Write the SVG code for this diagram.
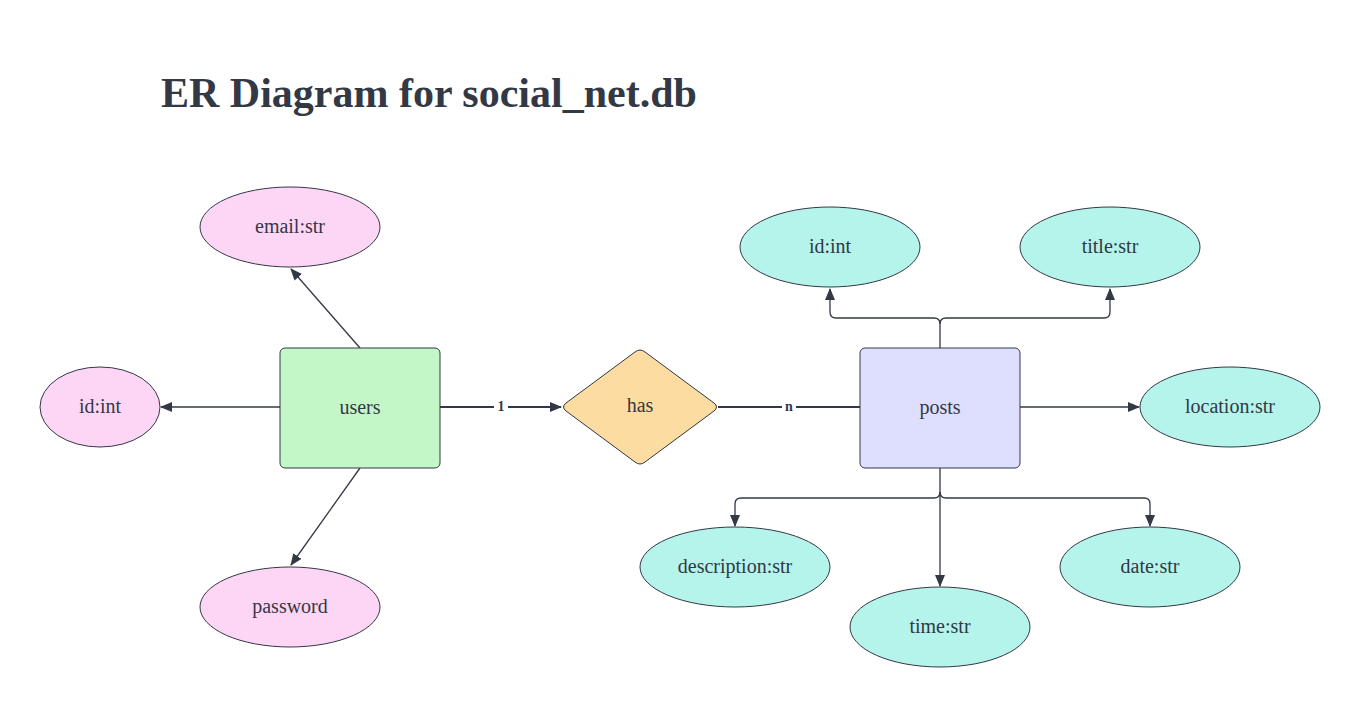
<svg xmlns="http://www.w3.org/2000/svg" width="1360" height="708" viewBox="0 0 1360 708">
<style>
text{font-family:"Liberation Serif","DejaVu Serif",serif;fill:#333845;text-anchor:middle;dominant-baseline:central;font-size:20px}
.pk{fill:#fdd6f6;stroke:#333845;stroke-width:1}
.tl{fill:#b4f4ea;stroke:#333845;stroke-width:1}
.c{fill:none;stroke:#333845;stroke-width:1.3}
.lb{font-size:14px;font-weight:bold}
</style>
<defs><marker id="a" markerWidth="12" markerHeight="10" refX="11" refY="5" orient="auto" markerUnits="userSpaceOnUse"><path d="M0,0 L12,5 L0,10 z" fill="#333845"/></marker></defs>
<rect width="1360" height="708" fill="#fff"/>
<text x="161" y="93" style="text-anchor:start;font-size:42px;font-weight:bold">ER Diagram  for social_net.db</text>
<g id="connectors">
<path class="c" d="M360,348 L291,269" marker-end="url(#a)"/>
<path class="c" d="M280,407 L161,407" marker-end="url(#a)"/>
<path class="c" d="M360,468 L291,565" marker-end="url(#a)"/>
<path class="c" d="M440,407 L561,407" marker-end="url(#a)" style="stroke-width:2"/>
<rect x="494" y="399" width="14" height="16" fill="#fff"/><text class="lb" x="501" y="406">1</text>
<path class="c" d="M718,407 L860,407" style="stroke-width:2"/>
<rect x="782" y="399" width="14" height="16" fill="#fff"/><text class="lb" x="789" y="406">n</text>
<path class="c" d="M940,348 L940,324 Q940,318 934,318 L836,318 Q830,318 830,312 L830,289" marker-end="url(#a)"/>
<path class="c" d="M940,324 Q940,318 946,318 L1104,318 Q1110,318 1110,312 L1110,289" marker-end="url(#a)"/>
<path class="c" d="M1020,407 L1139,407" marker-end="url(#a)"/>
<path class="c" d="M940,468 L940,492 Q940,498 934,498 L741,498 Q735,498 735,504 L735,526" marker-end="url(#a)"/>
<path class="c" d="M940,492 Q940,498 946,498 L1144,498 Q1150,498 1150,504 L1150,526" marker-end="url(#a)"/>
<path class="c" d="M940,492 L940,586" marker-end="url(#a)"/>
</g>
<g id="users"><rect x="280" y="348" width="160" height="120" rx="5" fill="#c3f7c8" stroke="#333845"/><text x="360" y="407">users</text></g>
<g id="has"><path d="M635,352 Q640,348 645,352 L714,403 Q719,407 714,411 L645,462 Q640,466 635,462 L566,411 Q561,407 566,403 Z" fill="#fddca2" stroke="#333845"/><text x="640" y="405">has</text></g>
<g id="posts"><rect x="860" y="348" width="160" height="120" rx="5" fill="#dedefe" stroke="#333845"/><text x="940" y="407">posts</text></g>
<g id="u_email"><ellipse class="pk" cx="290" cy="227" rx="90" ry="40"/><text x="290" y="226">email:str</text></g>
<g id="u_id"><ellipse class="pk" cx="100" cy="407" rx="60" ry="40"/><text x="100" y="406">id:int</text></g>
<g id="u_password"><ellipse class="pk" cx="290" cy="607" rx="90" ry="40"/><text x="290" y="606">password</text></g>
<g id="p_id"><ellipse class="tl" cx="830" cy="247" rx="90" ry="40"/><text x="830" y="246">id:int</text></g>
<g id="p_title"><ellipse class="tl" cx="1110" cy="247" rx="90" ry="40"/><text x="1110" y="246">title:str</text></g>
<g id="p_location"><ellipse class="tl" cx="1230" cy="407" rx="90" ry="40"/><text x="1230" y="406">location:str</text></g>
<g id="p_description"><ellipse class="tl" cx="735" cy="567" rx="95" ry="40"/><text x="735" y="566">description:str</text></g>
<g id="p_time"><ellipse class="tl" cx="940" cy="627" rx="90" ry="40"/><text x="940" y="626">time:str</text></g>
<g id="p_date"><ellipse class="tl" cx="1150" cy="567" rx="90" ry="40"/><text x="1150" y="566">date:str</text></g>
</svg>
